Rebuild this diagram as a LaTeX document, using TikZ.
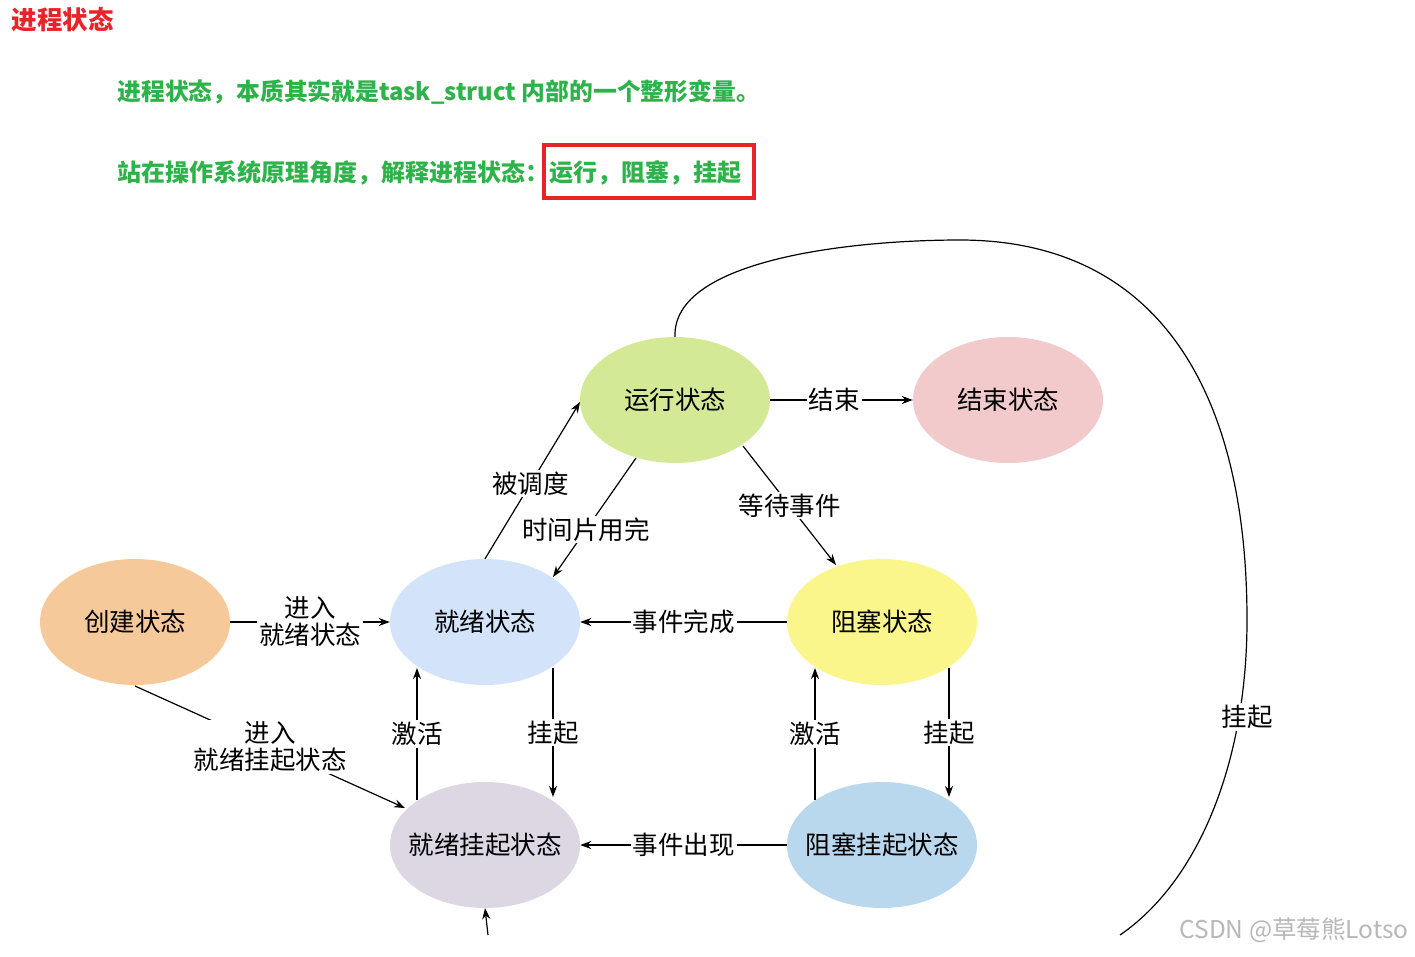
\documentclass[tikz,border=0pt]{standalone}
\usepackage{fontspec}
\setmainfont{Noto Sans CJK SC}
\usetikzlibrary{arrows.meta,shapes.geometric}
\definecolor{cgreen}{HTML}{2DB34A}
\definecolor{cred}{HTML}{E8242B}
\newcommand{\zb}[1]{\makebox[0pt]{#1}}
\tikzset{
 st/.style={ellipse,minimum width=190pt,minimum height=126pt,inner sep=0pt,font=\fontsize{25.5}{28}\selectfont},
 ln/.style={line width=1.2pt,-{Stealth[length=11pt,width=8pt]}},
 lb/.style={fill=white,inner sep=2pt,font=\fontsize{25.5}{29}\selectfont,align=center},
}
\begin{document}
\begin{tikzpicture}[x=1pt,y=-1pt]
\useasboundingbox[fill=white] (0,0) rectangle (1415,956);
\node[anchor=west,text=cred,font=\fontsize{25.5}{28}\selectfont\bfseries] (t0) at (8,20) {进程状态};
\node[anchor=west,text=cgreen,font=\fontsize{23.8}{28}\selectfont\bfseries] (t1) at (114,92) {进程状态，本质其实就是task\_struct 内部的一个整形变量。};
\node[anchor=west,text=cgreen,font=\fontsize{24}{28}\selectfont\bfseries] (t2) at (114,173) {站在操作系统原理角度，解释进程状态：运行，阻塞，挂起};
\draw[cred,line width=3.5pt] (544,145) rectangle (754,198);

\node[st,fill={rgb,255:red,212;green,233;blue,150}] (run) at (675,400) {\zb{运行状态}};
\node[st,fill={rgb,255:red,242;green,202;blue,204}] (end) at (1008,400) {\zb{结束状态}};
\node[st,fill={rgb,255:red,211;green,227;blue,250}] (ready) at (485,622) {\zb{就绪状态}};
\node[st,fill={rgb,255:red,250;green,246;blue,140}] (block) at (882,622) {\zb{阻塞状态}};
\node[st,fill={rgb,255:red,246;green,201;blue,154}] (new) at (135,622) {\zb{创建状态}};
\node[st,fill={rgb,255:red,221;green,214;blue,227}] (rs) at (485,845) {\zb{就绪挂起状态}};
\node[st,fill={rgb,255:red,185;green,216;blue,238}] (bs) at (882,845) {\zb{阻塞挂起状态}};

\draw[ln] (new.east) -- node[lb]{进入\\[-2pt]就绪状态} (ready.west);
\draw[ln] (ready.north) -- node[lb,pos=0.48]{被调度} (580,402);
\draw[ln] (636,458) -- node[lb,pos=0.6]{时间片用完} (553,577);
\draw[ln] (run.east) -- node[lb,pos=0.45]{结束} (end.west);
\draw[ln] (743,446) -- node[lb,pos=0.5]{等待事件} (836,565);
\draw[ln] (block.west) -- node[lb]{事件完成} (ready.east);
\draw[ln] (553,668) -- node[lb]{挂起} (553,797);
\draw[ln] (417,800) -- node[lb]{激活} (417,668);
\draw[ln] (949,668) -- node[lb]{挂起} (949,797);
\draw[ln] (815,800) -- node[lb]{激活} (815,668);
\draw[ln] (bs.west) -- node[lb]{事件出现} (rs.east);
\draw[ln] (135,686) -- node[lb,pos=0.5]{进入\\[-2pt]就绪挂起状态} (405,808);

\coordinate (cend) at (1120,935);
\draw[line width=1.2pt] (run.north) .. controls (672,260) and (850,240) .. (960,240)
  .. controls (1150,240) and (1247,380) .. (1247,620)
  .. controls (1247,760) and (1200,880) .. (cend);
\node[lb] (lbs) at (1247,717) {挂起};
\coordinate (bstart) at (488,935);
\draw[ln] (bstart) -- (rs.south);

\node[anchor=east,text=black!28,font=\fontsize{24.5}{28}\selectfont] (wm) at (1412,930) {CSDN @草莓熊Lotso};
\end{tikzpicture}
\end{document}
